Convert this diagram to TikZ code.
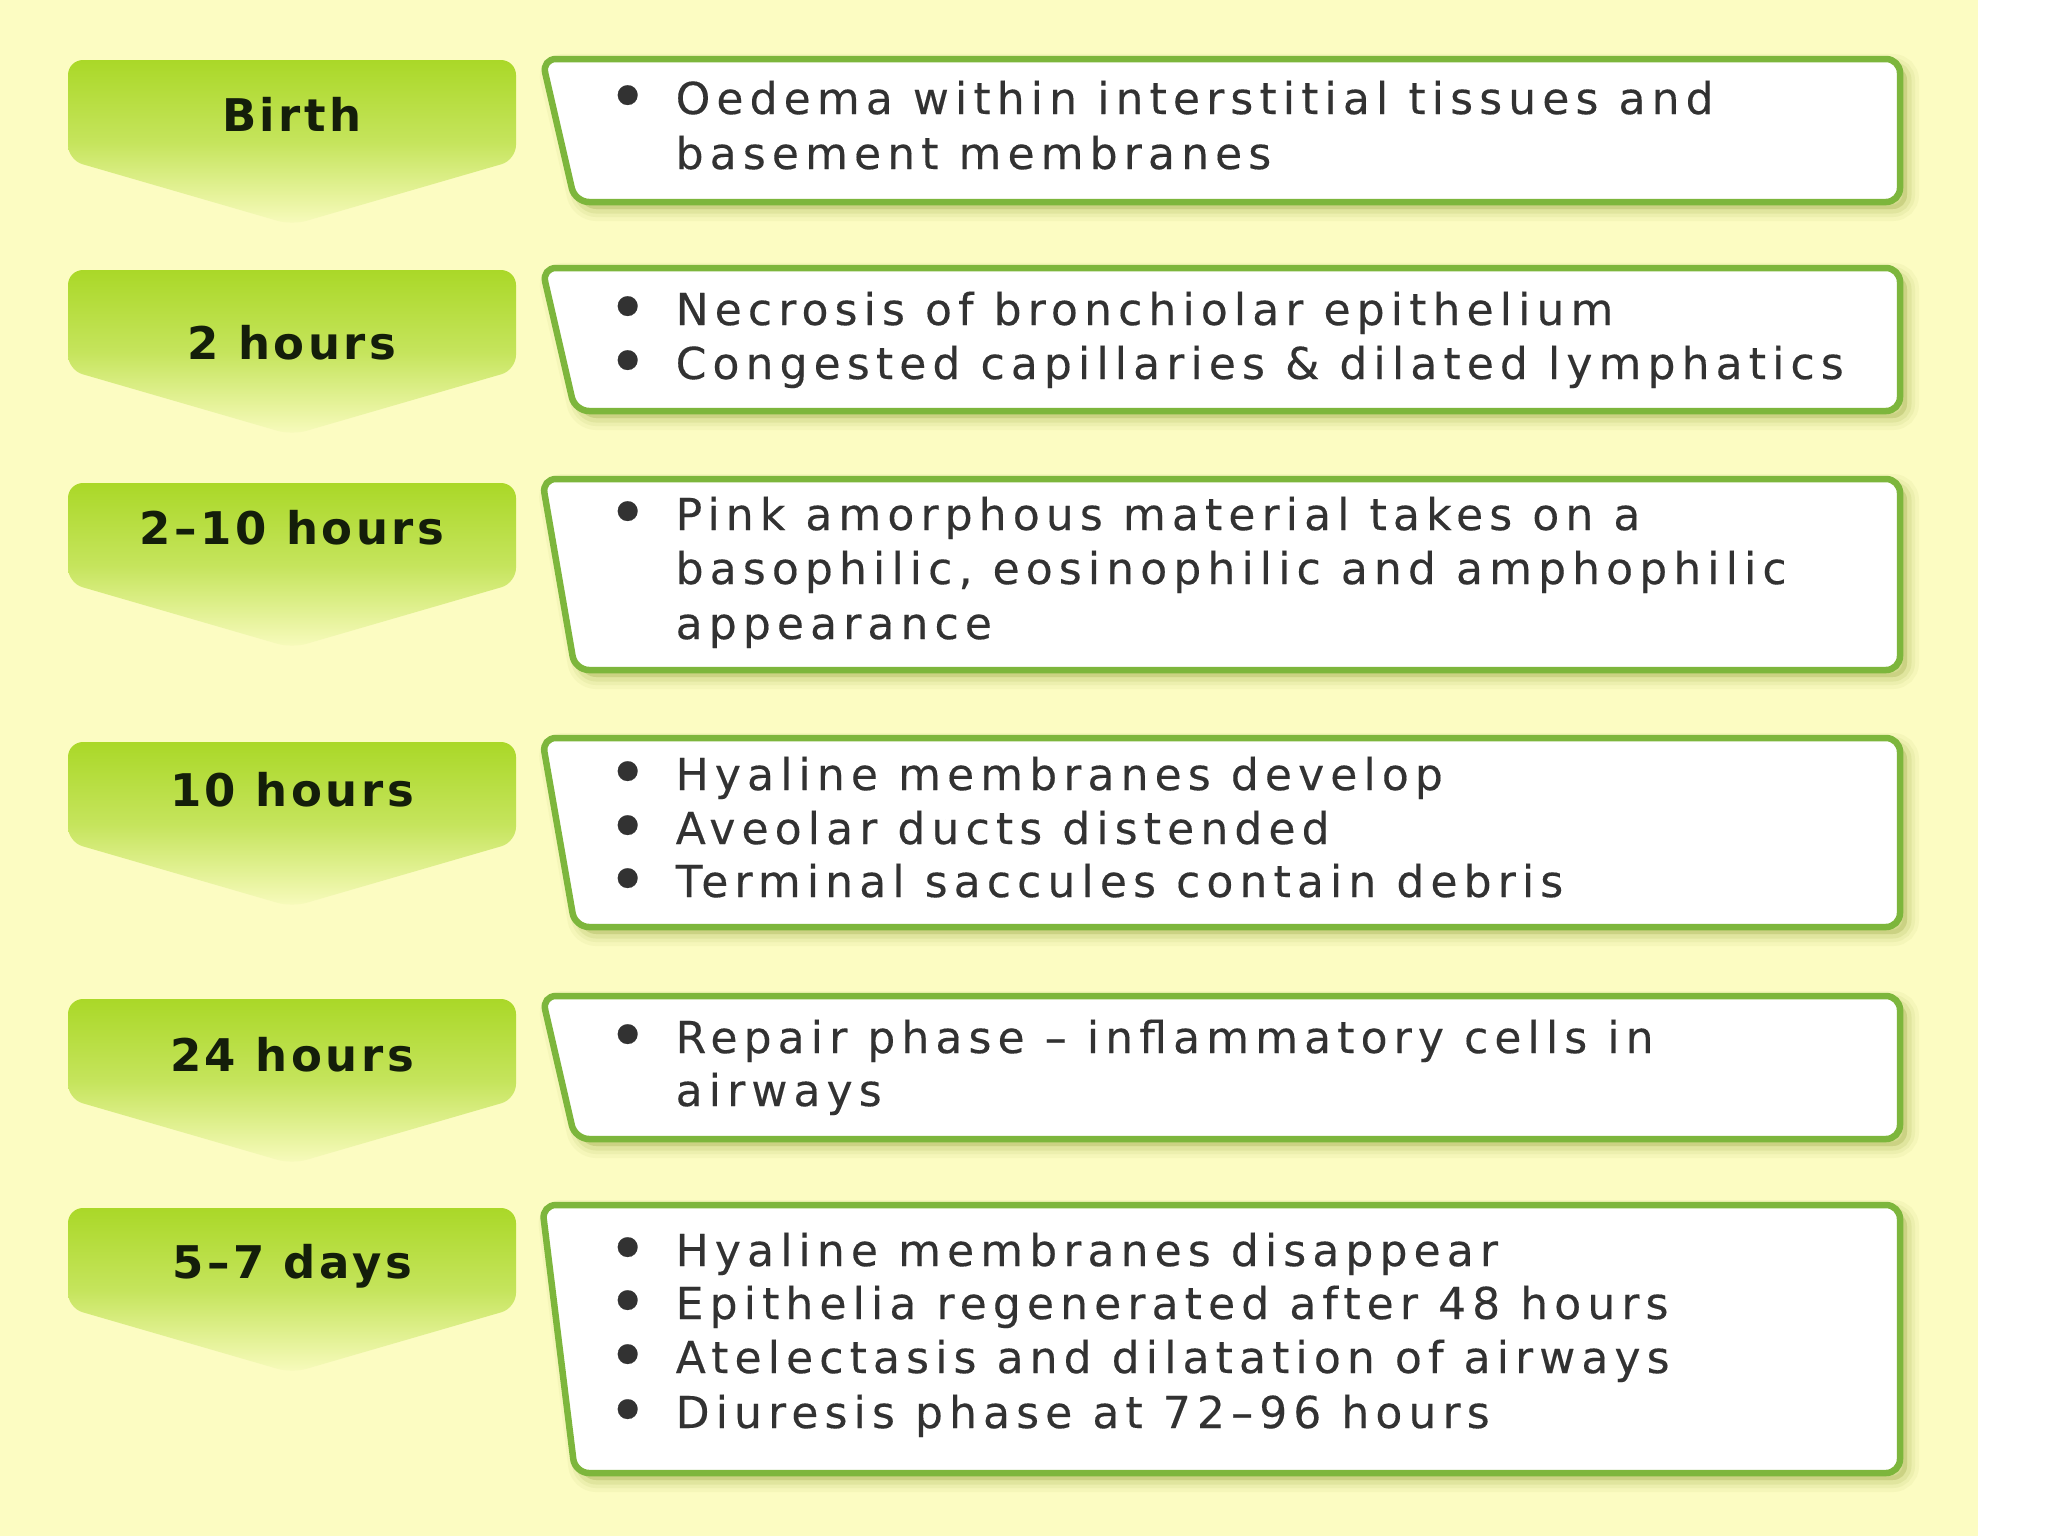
\documentclass[tikz,border=0pt]{standalone}
\usepackage{fontspec}
\setmainfont{DejaVu Sans}
\newfontfamily\bodyfont[LetterSpace=14,FakeBold=0.3]{DejaVu Sans}
\newfontfamily\labelfont[LetterSpace=8]{DejaVu Sans Bold}
\definecolor{bg}{RGB}{252,252,194}
\definecolor{chevtop}{RGB}{170,216,40}
\definecolor{chevbot}{RGB}{248,251,190}
\definecolor{boxline}{RGB}{125,182,60}
\definecolor{shadowc}{RGB}{140,160,50}
\definecolor{bodytext}{RGB}{50,50,50}
\definecolor{labeltext}{RGB}{20,30,10}
\newcommand\bl{\makebox[0.66cm][l]{\raisebox{-0.02cm}{\fontsize{16}{16}\selectfont\bfseries •}}}
\tikzset{
  bodyline/.style={anchor=base west, inner sep=0pt, text=bodytext, font=\bodyfont\fontsize{12.5}{15.4}\selectfont},
  chevlabel/.style={anchor=base, inner sep=0pt, text=labeltext, font=\labelfont\fontsize{12.8}{15.4}\selectfont},
  stagebox/.style={draw=boxline, line width=0.065cm, fill=white, rounded corners=0.14cm},
  chevshape/.style={top color=chevtop, bottom color=chevbot, middle color=chevtop!65!chevbot, rounded corners=0.15cm},
  boxshadow/.style={draw=shadowc, fill=shadowc, rounded corners=0.14cm},
}
\newcommand\chevronat[1]{%
  \shade[chevshape] (68,#1) -- (516,#1) -- (516,#1+100) -- (292,#1+165) -- (68,#1+100) -- cycle;}
\newcommand\boxat[2]{%
  \foreach \w/\o in {0.24/0.06,0.16/0.08,0.09/0.12}{%
    \draw[boxshadow, line width=\w cm, opacity=\o] (549,#1+7) -- (1907,#1+7) -- (1907,#2+7) -- (582,#2+7) -- cycle;}
  \draw[stagebox] (542,#1) -- (1900,#1) -- (1900,#2) -- (575,#2) -- cycle;}
\begin{document}
\begin{tikzpicture}[x=0.01cm, y=-0.01cm]
\useasboundingbox (0,0) rectangle (2048,1536);
\fill[white] (0,0) rectangle (2048,1536);
\fill[bg] (0,0) rectangle (1978,1536);

% row 1
\chevronat{60}
\node[chevlabel] (l1) at (292,131) {Birth};
\boxat{59}{202}
\node[bodyline] (r1a) at (609,114) {\bl Oedema within interstitial tissues and};
\node[bodyline] (r1b) at (675,169) {basement membranes};

% row 2
\chevronat{270}
\node[chevlabel] (l2) at (292,359) {2 hours};
\boxat{268}{411}
\node[bodyline] (r2a) at (609,325) {\bl Necrosis of bronchiolar epithelium};
\node[bodyline] (r2b) at (609,379) {\bl Congested capillaries \& dilated lymphatics};

% row 3
\chevronat{483}
\node[chevlabel] (l3) at (292,544) {2–10 hours};
\boxat{479}{670}
\node[bodyline] (r3a) at (609,530) {\bl Pink amorphous material takes on a};
\node[bodyline] (r3b) at (675,584) {basophilic, eosinophilic and amphophilic};
\node[bodyline] (r3c) at (675,639) {appearance};

% row 4
\chevronat{742}
\node[chevlabel] (l4) at (292,806) {10 hours};
\boxat{738}{927}
\node[bodyline] (r4a) at (609,790) {\bl Hyaline membranes develop};
\node[bodyline] (r4b) at (609,844) {\bl Aveolar ducts distended};
\node[bodyline] (r4c) at (609,897) {\bl Terminal saccules contain debris};

% row 5
\chevronat{999}
\node[chevlabel] (l5) at (292,1071) {24 hours};
\boxat{996}{1139}
\node[bodyline] (r5a) at (609,1053) {\bl Repair phase – inflammatory cells in};
\node[bodyline] (r5b) at (675,1106) {airways};

% row 6
\chevronat{1208}
\node[chevlabel] (l6) at (292,1278) {5–7 days};
\boxat{1205}{1473}
\node[bodyline] (r6a) at (609,1266) {\bl Hyaline membranes disappear};
\node[bodyline] (r6b) at (609,1319) {\bl Epithelia regenerated after 48 hours};
\node[bodyline] (r6c) at (609,1373) {\bl Atelectasis and dilatation of airways};
\node[bodyline] (r6d) at (609,1428) {\bl Diuresis phase at 72–96 hours};
\end{tikzpicture}
\end{document}
